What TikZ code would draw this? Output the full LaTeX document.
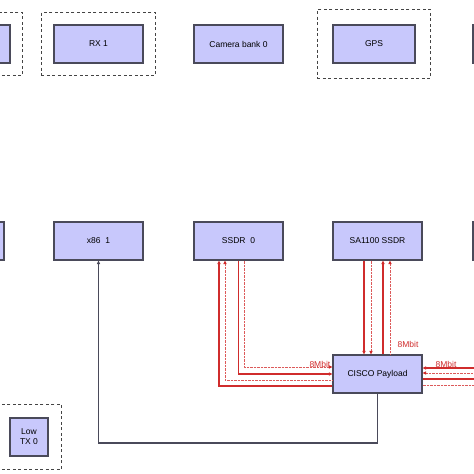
\documentclass[tikz,border=0pt]{standalone}
\usepackage{fontspec}
\setmainfont{Liberation Sans}
\usepackage{xcolor}
\usetikzlibrary{arrows.meta,positioning,fit}
\definecolor{unitfill}{HTML}{C8C8FC}
\definecolor{unitline}{HTML}{4A4A5A}
\definecolor{framegray}{HTML}{444444}
\definecolor{link}{HTML}{D02C2C}
\definecolor{linklight}{HTML}{DC5A5A}

\tikzset{
  unit/.style={rectangle,draw=unitline,fill=unitfill,line width=1.1pt,
    minimum width=89pt,minimum height=38pt,inner sep=1pt,
    font=\fontsize{8.5}{10}\selectfont,align=center},
  grp/.style={rectangle,draw=framegray,line width=1.1pt,
    dash pattern=on 3pt off 2.5pt,inner sep=#1},
  grp/.default=12pt,
  fat/.style={draw=link,line width=1.2pt,-{Triangle[length=3.5pt,width=3.2pt]}},
  thin/.style={draw=linklight,line width=0.85pt,dash pattern=on 0.8pt off 0.6pt,
    -{Triangle[length=3.5pt,width=3.2pt,color=link,fill=link]}},
  rate/.style={text=link,font=\fontsize{8.5}{9}\selectfont,inner sep=0.5pt},
  ctrl/.style={draw=unitline,line width=1.1pt,-{Triangle[length=3.5pt,width=3.2pt]}}
}

\begin{document}
\begin{tikzpicture}[x=1pt,y=-1pt]
  \clip (0,0) rectangle (474,474);
  \fill[white] (0,0) rectangle (474,474);

  % top row
  \node[unit] (rx0) at (-34.5,44) {};
  \node[unit] (rx1) at (98.5,44) {RX 1};
  \node[unit] (cam) at (238.5,44) {Camera bank 0};
  \node[unit,minimum width=82pt] (gps) at (374,44) {GPS};
  \node[unit] (topr) at (517.5,44) {};
  \node[grp] (grx0) [fit=(rx0)] {};
  \node[grp] (grx1) [fit=(rx1)] {};
  \node[grp=15pt] (ggps) [fit=(gps)] {};

  % processing row
  \node[unit] (cpu0) at (-40.5,241) {};
  \node[unit] (cpu1) at (98.5,241) {x86\ \ 1};
  \node[unit] (sdr0) at (238.5,241) {SSDR\ \ 0};
  \node[unit] (sa) at (377.5,241) {SA1100 SSDR};
  \node[unit] (sdr2) at (517.5,241) {};

  \node[unit] (cisco) at (377.5,374) {CISCO Payload};

  \node[unit,minimum width=38pt] (ltx) at (29,437) {Low\\TX 0};
  \node[grp=13pt] (gltx) [fit=(ltx)] {};

  % control link
  \coordinate (bend) at (377.5,443);
  \draw[ctrl] (cisco.south) -- (bend) -| (cpu1.south);

  % SSDR 0 <-> payload
  \draw[fat] (sdr0.south) |- (cisco.west);
  \draw[thin] ([xshift=5.5pt]sdr0.south) |- ([yshift=7pt]cisco.west);
  \draw[thin] ([yshift=-6pt]cisco.west) -| ([xshift=-13.5pt]sdr0.south);
  \draw[fat] ([yshift=-12pt]cisco.west) -| ([xshift=-19.5pt]sdr0.south);
  \node[rate,anchor=south east] (r1) at (331,368) {8Mbit};

  % SA1100 <-> payload
  \draw[fat] ([xshift=-13.5pt]sa.south) -- ([xshift=-13.5pt]cisco.north);
  \draw[thin] ([xshift=-6.5pt]sa.south) -- ([xshift=-6.5pt]cisco.north);
  \draw[fat] ([xshift=5.5pt]cisco.north) -- ([xshift=5.5pt]sa.south);
  \draw[thin] ([xshift=12.5pt]cisco.north) -- ([xshift=12.5pt]sa.south);
  \node[rate] (r2) at (408,344) {8Mbit};

  % right unit <-> payload
  \draw[fat] ([xshift=-30pt]sdr2.south) |- ([yshift=6pt]cisco.east);
  \draw[thin] ([xshift=-24pt]sdr2.south) |- ([yshift=1pt]cisco.east);
  \draw[fat,-] ([yshift=-5pt]cisco.east) -| ([xshift=-18pt]sdr2.south);
  \draw[thin,-] ([yshift=-11pt]cisco.east) -| ([xshift=-12pt]sdr2.south);
  \node[rate] (r3) at (446,364) {8Mbit};
\end{tikzpicture}
\end{document}
